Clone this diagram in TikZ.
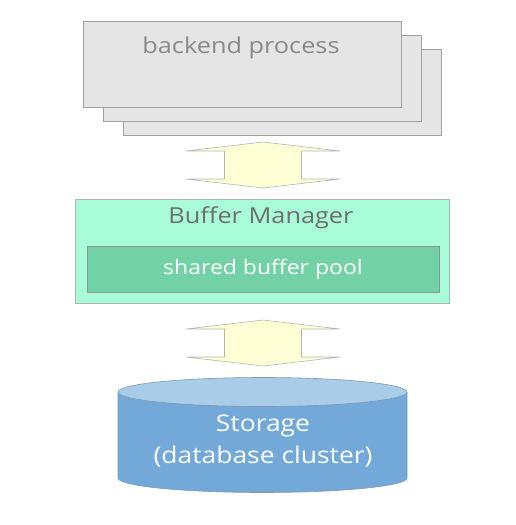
\documentclass[tikz,border=0pt]{standalone}
\usepackage{fontspec}
\setmainfont{Open Sans}[FakeStretch=1.15]
\usepackage{tikz}
\usetikzlibrary{positioning}
\definecolor{procfill}{HTML}{E5E5E5}
\definecolor{procdraw}{HTML}{A0A0A0}
\definecolor{proctext}{HTML}{8A8A8A}
\definecolor{arrfill}{HTML}{FFFFD6}
\definecolor{arrdraw}{HTML}{B4B4B4}
\definecolor{bmfill}{HTML}{A8FDD8}
\definecolor{bmdraw}{HTML}{A8B8B0}
\definecolor{bmtext}{HTML}{6E6E6E}
\definecolor{poolfill}{HTML}{72D2A6}
\definecolor{pooldraw}{HTML}{8A9A92}
\definecolor{stfill}{HTML}{72A9D8}
\definecolor{sttop}{HTML}{A9CCE8}
\definecolor{stdraw}{HTML}{8098B0}

\begin{document}
\begin{tikzpicture}[x=1pt,y=-1pt,semithick]
  \tikzstyle{proc}=[draw=procdraw,fill=procfill,minimum width=318pt,minimum height=86pt]
  \tikzstyle{fat}=[draw=arrdraw,fill=arrfill,line join=round]
  \useasboundingbox (0,0) rectangle (516,525);

  % backend processes
  \node[proc] (p3) at (282.5,92) {};
  \node[proc] (p2) at (262.5,78) {};
  \node[proc] (p1) at (242.5,64) {};
  \node[text=proctext,font=\fontsize{22}{26}\selectfont] (back) at (241,48) {backend process};

  % buffer manager
  \node[draw=bmdraw,fill=bmfill,minimum width=374pt,minimum height=104pt] (bm) at (262,251) {};
  \node[text=bmtext,font=\fontsize{22}{26}\selectfont] (bmlabel) at (261,218) {Buffer Manager};
  \node[draw=pooldraw,fill=poolfill,minimum width=352pt,minimum height=46pt,
        text=white,font=\fontsize{20}{24}\selectfont] (pool) at (263,269) {shared buffer pool};

  % storage
  \draw[draw=stdraw,fill=stfill] (118,392) -- (118,478) arc[start angle=180,end angle=360,x radius=144.5,y radius=-14.5]
        -- (407,392);
  \draw[draw=stdraw,fill=sttop] (262.5,392) ellipse[x radius=144.5,y radius=14.5];
  \node[text=white,font=\fontsize{23}{30}\selectfont,align=center] (st) at (263,441)
        {Storage\\[2pt](database cluster)};

  % arrows
  \coordinate (a1) at (263,165);
  \coordinate (a2) at (263,343);
  \foreach \c in {a1,a2}
    \draw[fat] ([shift={(0,-23)}]\c) -- ++(77,9) -- ++(-38.5,0) -- ++(0,28)
      -- ++(38.5,0) -- ++(-77,9) -- ++(-77,-9) -- ++(38.5,0) -- ++(0,-28)
      -- ++(-38.5,0) -- cycle;
\end{tikzpicture}
\end{document}
